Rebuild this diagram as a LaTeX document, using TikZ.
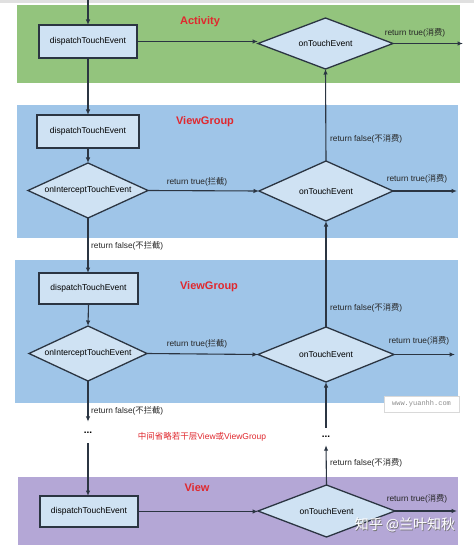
\documentclass[tikz,border=0pt]{standalone}
\usepackage{fontspec}
\setmainfont{Liberation Sans}
\newfontfamily\cjk{Noto Sans CJK SC}
\newfontfamily\wmono{Liberation Mono}
\usetikzlibrary{shapes.geometric,arrows.meta}
\definecolor{actgreen}{HTML}{93C47D}
\definecolor{vgblue}{HTML}{9FC5E8}
\definecolor{viewpurple}{HTML}{B4A7D6}
\definecolor{boxfill}{HTML}{CFE2F3}
\definecolor{edgecol}{HTML}{2B3542}
\definecolor{titlered}{HTML}{E0282E}
\tikzset{
  stepbox/.style={rectangle, draw=edgecol, line width=1.3pt, fill=boxfill, inner sep=0pt, outer sep=0pt, font=\fontsize{8.5}{10}\selectfont},
  dia/.style={diamond, draw=edgecol, line width=1.3pt, fill=boxfill, inner sep=0pt, outer sep=0pt, label={[font=\fontsize{8.5}{10}\selectfont]center:#1}},
  flow/.style={draw=edgecol, line width=1.1pt, -{Latex[length=5.5pt,width=4.5pt]}},
  lbl/.style={font=\fontsize{8.3}{10}\selectfont, inner sep=0pt, text=black!85},
  ptitle/.style={font=\bfseries\fontsize{11}{13}\selectfont, text=titlered},
  dots/.style={inner sep=0pt, font=\bfseries\fontsize{10}{10}\selectfont}
}
\begin{document}
\begin{tikzpicture}[x=1pt,y=-1pt]
\useasboundingbox (0,0) rectangle (474,545);
\fill[white] (0,0) rectangle (474,545);
\fill[black!12] (0,0) rectangle (474,3);
% panels
\fill[actgreen] (17,5) rectangle (460,83);
\fill[vgblue] (17,105) rectangle (458,238);
\fill[vgblue] (15,260) rectangle (458,403);
\fill[viewpurple] (18,477) rectangle (458,545);
% titles
\node[ptitle] (tA) at (200,22) {Activity};
\node[ptitle] (tG1) at (205,122) {ViewGroup};
\node[ptitle] (tG2) at (209,287) {ViewGroup};
\node[ptitle] (tV) at (197,488) {View};
% Activity
\coordinate (in) at (88,0);
\node[stepbox, minimum width=98pt, minimum height=33pt] (ad) at (88,41.5) {dispatchTouchEvent};
\node[dia=onTouchEvent, minimum width=135pt, minimum height=51pt] (at) at (325.5,43.5) {};
\coordinate (aout) at (463,43.5);
% ViewGroup 1
\node[stepbox, minimum width=102pt, minimum height=33pt] (g1d) at (88,131.5) {dispatchTouchEvent};
\node[dia=onInterceptTouchEvent, minimum width=120pt, minimum height=55pt] (g1i) at (88,190.5) {};
\node[dia=onTouchEvent, minimum width=134pt, minimum height=60pt] (g1t) at (326,191) {};
\coordinate (g1out) at (457,191);
% ViewGroup 2
\node[stepbox, minimum width=99pt, minimum height=31pt] (g2d) at (88.5,288.5) {dispatchTouchEvent};
\node[dia=onInterceptTouchEvent, minimum width=118pt, minimum height=55pt] (g2i) at (88,353.5) {};
\node[dia=onTouchEvent, minimum width=136pt, minimum height=55pt] (g2t) at (326,354.5) {};
\coordinate (g2out) at (455,354.5);
% dots
\node[dots, minimum height=21pt] (ld) at (88,432.5) {...};
\node[dots, minimum height=17pt] (rd) at (326,436.5) {...};
% View
\node[stepbox, minimum width=98pt, minimum height=31pt] (vd) at (89,511.5) {dispatchTouchEvent};
\node[dia=onTouchEvent, minimum width=137pt, minimum height=52pt] (vt) at (326.5,511) {};
\coordinate (vout) at (457,511);
% connectors
\draw[flow] (in) -- (ad.north);
\draw[flow] (ad.east) -- (ad.east -| at.west);
\draw[flow] (at.east) -- (aout);
\draw[flow] (ad.south) -- (g1d.north);
\draw[flow] (g1d.south) -- (g1i.north);
\draw[flow] (g1i.east) -- (g1t.west);
\draw[flow] (g1t.east) -- (g1out);
\draw[flow] (g1t.north) -- (at.south);
\draw[flow] (g1i.south) -- (g1i.south |- g2d.north);
\draw[flow] (g2d.south) -- (g2i.north);
\draw[flow] (g2i.east) -- (g2t.west);
\draw[flow] (g2t.east) -- (g2out);
\draw[flow] (g2t.north) -- (g1t.south);
\draw[flow] (g2i.south) -- (ld.north);
\draw[flow] (ld.south) -- (ld.south |- vd.north);
\draw[flow] (vt.north) -- (rd.south);
\draw[flow] (rd.north) -- (g2t.south);
\draw[flow] (vd.east) -- (vd.east -| vt.west);
\draw[flow] (vt.east) -- (vout);
% labels
\node[lbl] (l1) at (415,33) {return true({\cjk 消费})};
\node[lbl] (l2) at (197,182) {return true({\cjk 拦截})};
\node[lbl] (l3) at (417,179) {return true({\cjk 消费})};
\node[lbl, anchor=west] (l4) at (330,139) {return false({\cjk 不消费})};
\node[lbl, anchor=west] (l5) at (91,246) {return false({\cjk 不拦截})};
\node[lbl] (l6) at (197,344) {return true({\cjk 拦截})};
\node[lbl] (l7) at (419,341) {return true({\cjk 消费})};
\node[lbl, anchor=west] (l8) at (330,308) {return false({\cjk 不消费})};
\node[lbl, anchor=west] (l9) at (91,411) {return false({\cjk 不拦截})};
\node[lbl, anchor=west] (l10) at (330,463) {return false({\cjk 不消费})};
\node[lbl] (l11) at (417,499) {return true({\cjk 消费})};
\node[font=\fontsize{8.5}{10}\selectfont, text=titlered, inner sep=0pt] (mid) at (202,437) {{\cjk 中间省略若干层}View{\cjk 或}ViewGroup};
% watermarks
\node[draw=black!15, fill=white, minimum width=75pt, minimum height=16pt, inner sep=0pt, font=\wmono\fontsize{7}{8}\selectfont, text=black!45] (wm) at (421.5,404) {www.yuanhh.com};
\node[font=\cjk\fontsize{14}{16}\selectfont, text=black!55, inner sep=0pt] (zh0) at (405.7,525.7) {知乎 @兰叶知秋};
\node[font=\cjk\fontsize{14}{16}\selectfont, text=white, inner sep=0pt] (zh) at (405,525) {知乎 @兰叶知秋};
\end{tikzpicture}
\end{document}
